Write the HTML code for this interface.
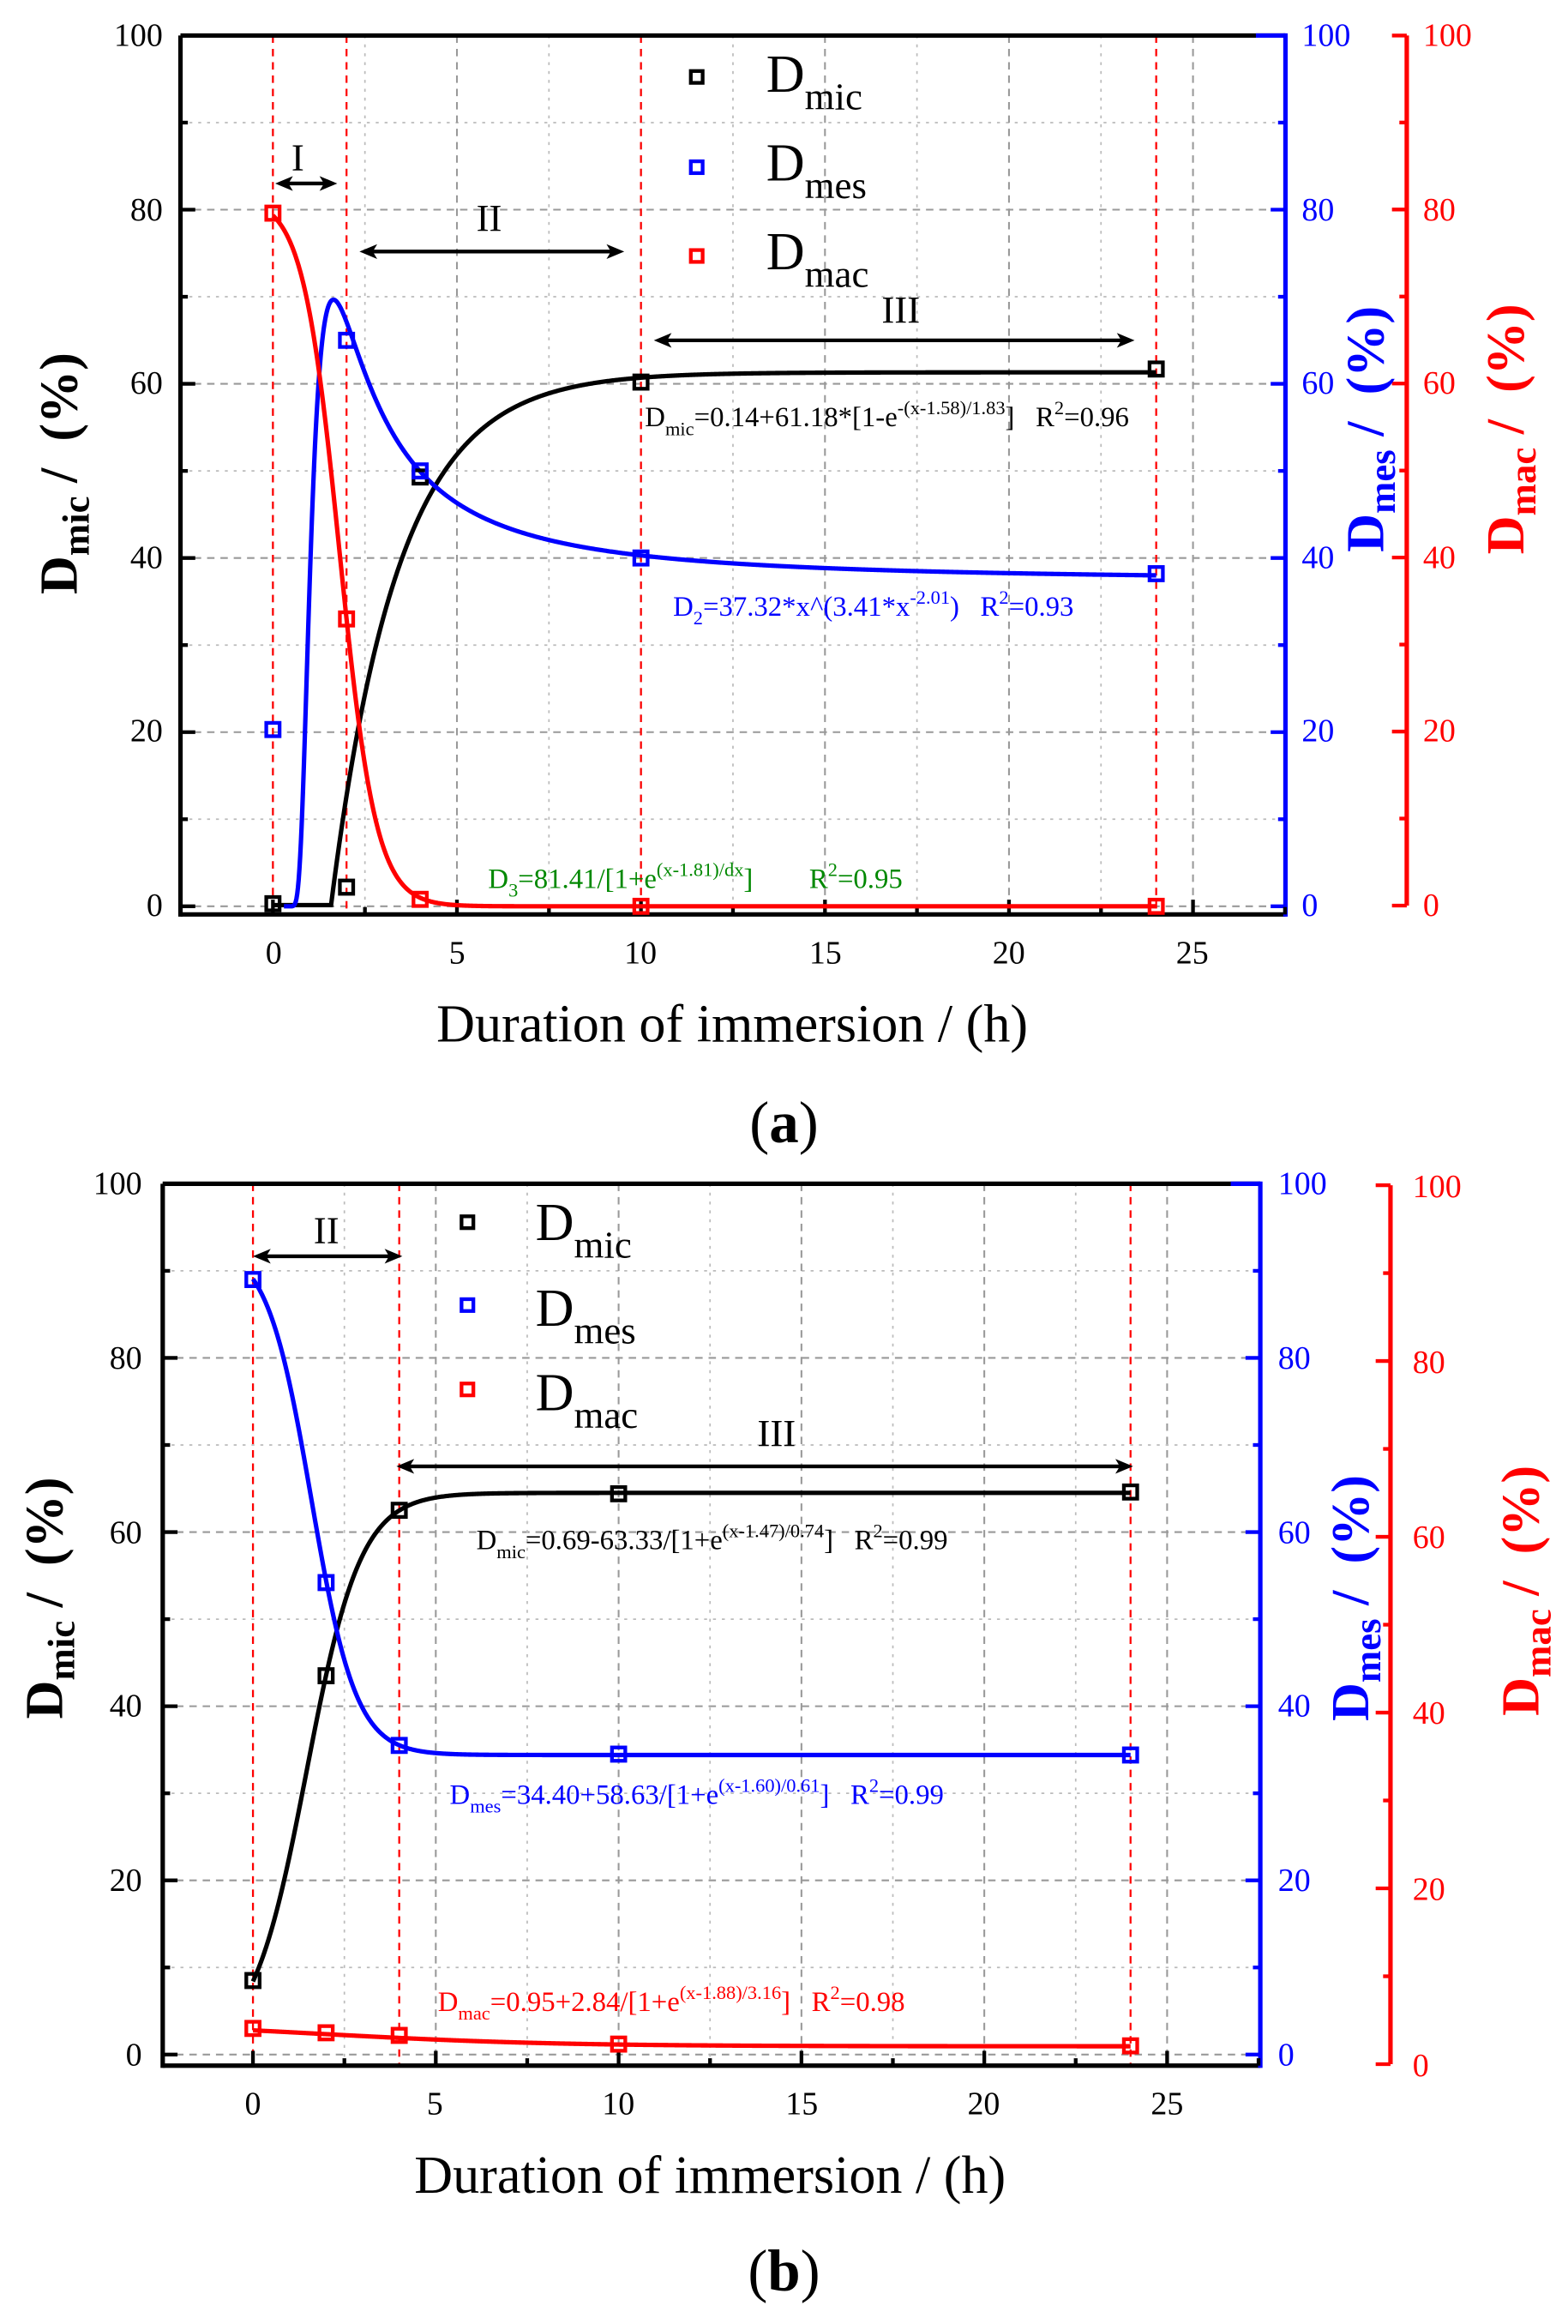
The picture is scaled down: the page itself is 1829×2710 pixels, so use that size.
<!DOCTYPE html>
<html><head><meta charset="utf-8"><style>
html,body{margin:0;padding:0;background:#fff}
svg{display:block}
text{font-family:"Liberation Serif","Times New Roman",serif}
</style></head><body>
<svg id="s" xmlns="http://www.w3.org/2000/svg" width="1829" height="2710" viewBox="0 0 1060 1570.6">
<rect width="1060" height="1570.6" fill="#fff"/>
<g id="g"></g>
<!-- Panel a texts -->
<g font-size="22" text-anchor="end">
<text x="110" y="31">100</text><text x="110" y="149">80</text><text x="110" y="266">60</text><text x="110" y="384">40</text><text x="110" y="501">20</text><text x="110" y="619">0</text>
</g>
<g font-size="22" fill="#00f"><text x="880" y="31">100</text><text x="880" y="149">80</text><text x="880" y="266">60</text><text x="880" y="384">40</text><text x="880" y="501">20</text><text x="880" y="619">0</text></g>
<g font-size="22" fill="#f00"><text x="962" y="31">100</text><text x="962" y="149">80</text><text x="962" y="266">60</text><text x="962" y="384">40</text><text x="962" y="501">20</text><text x="962" y="619">0</text></g>
<g font-size="22" text-anchor="middle"><text x="185" y="651">0</text><text x="309" y="651">5</text><text x="433" y="651">10</text><text x="558" y="651">15</text><text x="682" y="651">20</text><text x="806" y="651">25</text></g>
<text x="495" y="704" font-size="36" text-anchor="middle">Duration of immersion / (h)</text>
<text x="530" y="772" font-size="40" text-anchor="middle">(<tspan font-weight="bold">a</tspan>)</text>
<text transform="translate(52,320) rotate(-90)" font-size="36" font-weight="bold" text-anchor="middle">D<tspan font-size="26" dy="8">mic</tspan><tspan dy="-8">&#160;/&#160;&#160;(%)</tspan></text>
<text transform="translate(935,290) rotate(-90)" font-size="36" font-weight="bold" text-anchor="middle" fill="#00f">D<tspan font-size="26" dy="8">mes</tspan><tspan dy="-8">&#160;/&#160;&#160;(%)</tspan></text>
<text transform="translate(1030,290) rotate(-90)" font-size="36" font-weight="bold" text-anchor="middle" fill="#f00">D<tspan font-size="26" dy="8">mac</tspan><tspan dy="-8">&#160;/&#160;&#160;(%)</tspan></text>
<g font-size="36"><text x="518" y="62">D<tspan font-size="26" dy="12">mic</tspan></text><text x="518" y="122">D<tspan font-size="26" dy="12">mes</tspan></text><text x="518" y="182">D<tspan font-size="26" dy="12">mac</tspan></text></g>
<g font-size="26"><text x="197" y="115">I</text><text x="322" y="156">II</text><text x="596" y="218">III</text></g>
<text x="436" y="288" font-size="19">D<tspan font-size="13" dy="6">mic</tspan><tspan dy="-6">=0.14+61.18*[1-e</tspan><tspan font-size="13" dy="-8">-(x-1.58)/1.83</tspan><tspan dy="8">]&#160;&#160;&#160;R</tspan><tspan font-size="13" dy="-8">2</tspan><tspan dy="8">=0.96</tspan></text>
<text x="455" y="416" font-size="19" fill="#00f">D<tspan font-size="13" dy="6">2</tspan><tspan dy="-6">=37.32*x^(3.41*x</tspan><tspan font-size="13" dy="-8">-2.01</tspan><tspan dy="8">)&#160;&#160;&#160;R</tspan><tspan font-size="13" dy="-8">2</tspan><tspan dy="8">=0.93</tspan></text>
<text x="330" y="600" font-size="19" fill="#080">D<tspan font-size="13" dy="6">3</tspan><tspan dy="-6">=81.41/[1+e</tspan><tspan font-size="13" dy="-8">(x-1.81)/dx</tspan><tspan dy="8">]&#160;&#160;&#160;&#160;&#160;&#160;&#160;&#160;R</tspan><tspan font-size="13" dy="-8">2</tspan><tspan dy="8">=0.95</tspan></text>

<!-- Panel b texts -->
<g font-size="22" text-anchor="end">
<text x="96" y="807">100</text><text x="96" y="925">80</text><text x="96" y="1043">60</text><text x="96" y="1160">40</text><text x="96" y="1278">20</text><text x="96" y="1396">0</text>
</g>
<g font-size="22" fill="#00f"><text x="864" y="807">100</text><text x="864" y="925">80</text><text x="864" y="1043">60</text><text x="864" y="1160">40</text><text x="864" y="1278">20</text><text x="864" y="1396">0</text></g>
<g font-size="22" fill="#f00"><text x="955" y="809">100</text><text x="955" y="928">80</text><text x="955" y="1046">60</text><text x="955" y="1165">40</text><text x="955" y="1284">20</text><text x="955" y="1403">0</text></g>
<g font-size="22" text-anchor="middle"><text x="171" y="1429">0</text><text x="294" y="1429">5</text><text x="418" y="1429">10</text><text x="542" y="1429">15</text><text x="665" y="1429">20</text><text x="789" y="1429">25</text></g>
<text x="480" y="1482" font-size="36" text-anchor="middle">Duration of immersion / (h)</text>
<text x="530" y="1548" font-size="40" text-anchor="middle">(<tspan font-weight="bold">b</tspan>)</text>
<text transform="translate(42,1080) rotate(-90)" font-size="36" font-weight="bold" text-anchor="middle">D<tspan font-size="26" dy="8">mic</tspan><tspan dy="-8">&#160;/&#160;&#160;(%)</tspan></text>
<text transform="translate(925,1080) rotate(-90)" font-size="36" font-weight="bold" text-anchor="middle" fill="#00f">D<tspan font-size="26" dy="8">mes</tspan><tspan dy="-8">&#160;/&#160;&#160;(%)</tspan></text>
<text transform="translate(1040,1075) rotate(-90)" font-size="36" font-weight="bold" text-anchor="middle" fill="#f00">D<tspan font-size="26" dy="8">mac</tspan><tspan dy="-8">&#160;/&#160;&#160;(%)</tspan></text>
<g font-size="36"><text x="362" y="838">D<tspan font-size="26" dy="12">mic</tspan></text><text x="362" y="896">D<tspan font-size="26" dy="12">mes</tspan></text><text x="362" y="953">D<tspan font-size="26" dy="12">mac</tspan></text></g>
<g font-size="26"><text x="212" y="840">II</text><text x="512" y="977">III</text></g>
<text x="322" y="1047" font-size="19">D<tspan font-size="13" dy="6">mic</tspan><tspan dy="-6">=0.69-63.33/[1+e</tspan><tspan font-size="13" dy="-8">(x-1.47)/0.74</tspan><tspan dy="8">]&#160;&#160;&#160;R</tspan><tspan font-size="13" dy="-8">2</tspan><tspan dy="8">=0.99</tspan></text>
<text x="304" y="1219" font-size="19" fill="#00f">D<tspan font-size="13" dy="6">mes</tspan><tspan dy="-6">=34.40+58.63/[1+e</tspan><tspan font-size="13" dy="-8">(x-1.60)/0.61</tspan><tspan dy="8">]&#160;&#160;&#160;R</tspan><tspan font-size="13" dy="-8">2</tspan><tspan dy="8">=0.99</tspan></text>
<text x="296" y="1359" font-size="19" fill="#f00">D<tspan font-size="13" dy="6">mac</tspan><tspan dy="-6">=0.95+2.84/[1+e</tspan><tspan font-size="13" dy="-8">(x-1.88)/3.16</tspan><tspan dy="8">]&#160;&#160;&#160;R</tspan><tspan font-size="13" dy="-8">2</tspan><tspan dy="8">=0.98</tspan></text>
</svg>
<script>
var NS="http://www.w3.org/2000/svg",G=document.getElementById("g");
function el(t,a){var e=document.createElementNS(NS,t);for(var k in a)e.setAttribute(k,a[k]);G.appendChild(e);return e;}
function line(x1,y1,x2,y2,st,w,d){var a={x1:x1,y1:y1,x2:x2,y2:y2,stroke:st,"stroke-width":w};if(d)a["stroke-dasharray"]=d;return el("line",a);}
function arrow(x1,x2,y){line(x1+8,y,x2-8,y,"#000",2.5);
 el("path",{d:"M"+x1+","+y+" l12,-5 l-3,5 l3,5z",fill:"#000"});
 el("path",{d:"M"+x2+","+y+" l-12,-5 l3,5 l-3,5z",fill:"#000"});}
function panel(P){
 var X=function(v){return P.x0+v*P.sx},Y=function(v){return P.y0-v*P.sy};
 for(var v=10;v<100;v+=20)line(P.L,Y(v),P.R,Y(v),"#bbb",1,"2,4");
 for(var v=20;v<100;v+=20)line(P.L,Y(v),P.R,Y(v),"#999",1.2,"5,4");
 line(P.L,Y(0),P.R,Y(0),"#999",1.2,"5,4");
 for(var v=2.5;v<27;v+=5)line(X(v),P.T,X(v),P.B,"#bbb",1,"2,4");
 for(var v=0;v<=25;v+=5)line(X(v),P.T,X(v),P.B,"#999",1.2,"5,4");
 P.red.forEach(function(v){line(X(v),P.T,X(v),P.B,"#f00",1.3,"5,4");});
 line(P.L,P.T,P.R,P.T,"#000",3);line(P.L,P.B,P.R,P.B,"#000",3);line(P.L,P.T,P.L,P.B+1.5,"#000",3);
 line(P.R-20,P.T,P.R,P.T,"#00f",3);line(P.R,P.T-1.5,P.R,P.B+1.5,"#00f",3);
 for(var v=0;v<=100;v+=10){var l=v%20?5:10;line(P.L,Y(v),P.L+l,Y(v),"#000",2.5);line(P.R,Y(v),P.R-l,Y(v),"#00f",2.5);}
 for(var v=0;v<=27.5;v+=2.5){var l=v%5?5:10;if(X(v)<P.R)line(X(v),P.B,X(v),P.B-l,"#000",2.5);}
 line(P.RA,P.RT,P.RA,P.RB,"#f00",3);
 for(var v=0;v<=100;v+=10){var l=v%20?5:10,y=P.RB-v*(P.RB-P.RT)/100;line(P.RA,y,P.RA-l,y,"#f00",2.5);}
 P.curves.forEach(function(c){var d="";for(var x=c[1];x<=c[2];x+=0.02){var y=c[3](x);d+=(d?"L":"M")+X(x).toFixed(2)+","+Y(y).toFixed(2);}
  el("path",{d:d,fill:"none",stroke:c[0],"stroke-width":3});});
 P.pts.forEach(function(p){p[1].forEach(function(q){el("rect",{x:X(q[0])-4.5,y:Y(q[1])-4.5,width:9,height:9,fill:"none",stroke:p[0],"stroke-width":2.5});});});
 P.leg.forEach(function(l){el("rect",{x:l[1]-4,y:l[2]-4,width:8,height:8,fill:"none",stroke:l[0],"stroke-width":2.5});});
}
panel({x0:184.5,sx:24.88,y0:612.5,sy:5.885,L:122,R:869,T:24,B:618,RA:951,RT:24,RB:612,red:[0,2,10,24],
 curves:[["#000",0,24,function(x){return x<1.58?0.14:0.14+61.18*(1-Math.exp(-(x-1.58)/1.83));}],
  ["#00f",0.3,24,function(x){return 37.32*Math.pow(x,3.41*Math.pow(x,-2.01));}],
  ["#f00",0,24,function(x){return 81.41/(1+Math.exp((x-1.81)/0.497));}]],
 pts:[["#000",[[0,0.3],[2,2.2],[4,49.3],[10,60.2],[24,61.7]]],["#00f",[[0,20.3],[2,65],[4,50],[10,40],[24,38.2]]],["#f00",[[0,79.6],[2,33],[4,0.8],[10,0],[24,0]]]],
 leg:[["#000",471,52],["#00f",471,113],["#f00",471,173]]});
arrow(186,228,124);arrow(243,422,170);arrow(442,767,230);
panel({x0:171,sx:24.72,y0:1388.5,sy:5.885,L:110,R:852,T:800,B:1396,RA:940,RT:801,RB:1395,red:[0,4,24],
 curves:[["#000",0,24,function(x){return 64.5-63.8/(1+Math.exp((x-1.47)/0.74));}],
  ["#00f",0,24,function(x){return 34.4+58.63/(1+Math.exp((x-1.6)/0.61));}],
  ["#f00",0,24,function(x){return 0.95+2.84/(1+Math.exp((x-1.88)/3.16));}]],
 pts:[["#000",[[0,8.5],[2,43.5],[4,62.5],[10,64.4],[24,64.6]]],["#00f",[[0,89],[2,54.2],[4,35.5],[10,34.5],[24,34.4]]],["#f00",[[0,3],[2,2.5],[4,2.2],[10,1.2],[24,1]]]],
 leg:[["#000",316,826],["#00f",316,882],["#f00",316,939]]});
arrow(171,272,849);arrow(268,766,991);
</script>
</body></html>
